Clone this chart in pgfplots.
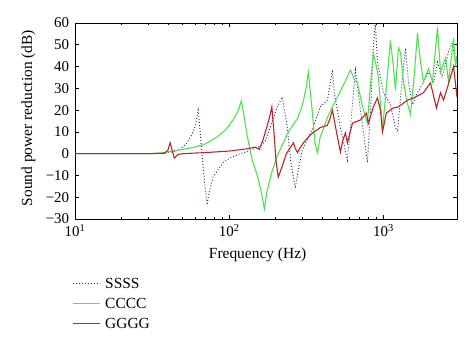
\documentclass[border=0pt]{standalone}
\usepackage{fontspec}
\setmainfont{Liberation Serif}
\usepackage{pgfplots}
\pgfplotsset{compat=1.18}
\definecolor{sblue}{RGB}{40,40,130}
\definecolor{cgreen}{RGB}{80,225,80}
\definecolor{gred}{RGB}{190,35,40}
\begin{document}
\fontsize{15.5}{18}\selectfont
\begin{tikzpicture}
\path[use as bounding box] (-75bp,-130bp) rectangle (399bp,219bp);
\begin{axis}[
  scale only axis, width=382bp, height=196bp,
  at={(0,0)}, anchor=south west,
  xmode=log, xmin=10, xmax=3000, ymin=-30, ymax=60,
  ytick={-30,-20,...,60},
  yticklabels={−30,−20,−10,0,10,20,30,40,50,60},
  xtick={10,100,1000},
  xticklabels={10\textsuperscript{1},10\textsuperscript{2},10\textsuperscript{3}},
  tick align=inside, xtick pos=both, ytick pos=both,
  major tick length=4bp, minor tick length=2bp,
  axis line style={line width=0.8pt},
  every tick/.style={black, line width=0.6pt},
  tick label style={font=\fontsize{15}{18}\selectfont},
  yticklabel style={xshift=-0.5bp},
  xlabel={Frequency (Hz)}, ylabel={Sound power reduction (dB)},
  xlabel style={at={(axis description cs:0.478,-0.199)}, anchor=base, inner sep=0pt},
  ylabel style={at={(axis description cs:-0.112,0.515)}, anchor=base, inner sep=0pt},
  label style={font=\fontsize{15.5}{18}\selectfont},
  legend style={at={(axis description cs:-0.008,-0.285)}, anchor=north west,
    draw=none, fill=none, inner sep=0pt, row sep=0bp,
    font=\fontsize{15.5}{18}\selectfont,
    nodes={inner sep=1bp, text height=12bp, text depth=6bp, anchor=base west}},
  legend cell align=left,
  legend image code/.code={\draw[#1] (0bp,4.5bp) -- (27bp,4.5bp); \path (31bp,0bp);},
]
\addplot[sblue, line width=0.9pt, dash pattern=on 1bp off 2bp] coordinates {
(10,0) (30,0) (38,0.2) (44,1) (48,2) (53.3,5) (57,8.5) (60.5,13) (62.9,20) (64.5,12) (66.5,0) (69,-12) (71.9,-23.5) (74,-18) (78.7,-10.7) (91.4,-4) (101,-2) (118,0) (131,1) (147,2.5) (159,3.5) (172,6) (184,12) (205,21.5) (221,26) (238,12) (250,-3) (268,-15.8) (283,-6) (298,1.7) (350,12) (390,21.5) (433,24.6) (467,38.5) (480,28) (526,12) (584,-3) (611,12) (658,38.5) (710,20) (788,-4) (825,20) (861,50) (887,60) (914,42) (1000,28) (1110,22.5) (1197,12) (1234,10) (1290,25.5) (1390,48.5) (1453,33) (1542,22.5) (1663,28) (1818,33) (1961,37.5) (2120,33) (2243,42) (2400,35) (2643,46.7) (2800,51) (2938,42) (3000,45)
};
\addlegendentry{SSSS}
\addplot[cgreen, line width=1.1pt] coordinates {
(10,0) (30,0) (36,0.3) (41.4,1) (50,2) (60,3) (70,4.5) (83.6,7.7) (95,11) (106,15.5) (114,19.5) (120,24.2) (125,17) (131,8) (141,-3) (152,-10) (162,-18) (169,-25.4) (176,-17) (190,-8) (205,-1) (221,4) (238,9) (258,13) (277,16) (300,23) (315,30) (326,37.5) (336,28) (345,20) (360,5) (373,0.3) (390,8) (407,11) (430,16) (467,21.5) (542,30.6) (580,35) (611,38.4) (650,34) (678,32.5) (730,22) (788,14) (820,30) (861,46) (900,40) (928,35) (986,11) (1050,32) (1110,52) (1160,40) (1197,29) (1251,48.5) (1290,46.7) (1349,33) (1420,24) (1497,18) (1580,35) (1663,55.5) (1740,42) (1818,33) (1961,39) (2081,33) (2243,58) (2345,37.5) (2529,44) (2643,33) (2851,53) (2938,40) (3000,45)
};
\addlegendentry{CCCC}
\addplot[gred, line width=1.1pt] coordinates {
(10,0) (30,0) (38,0.2) (40,1.5) (41.4,5) (42.5,2) (44,-2) (46.7,-0.3) (50,0) (70,0.5) (100,1.2) (130,2.2) (147,3) (157,2) (165,6) (175,12) (183,17) (189,21.5) (195,10) (201,-3) (208,-10.8) (220,-6) (235,0) (261,5) (268,2.5) (277,0.5) (290,3) (303,5) (340,9) (390,12) (433,13) (450,16) (467,20) (490,12) (526,0.8) (545,6) (567,9.5) (584,5) (630,14) (710,15.5) (776,18.6) (799,14) (861,21.5) (914,25.6) (957,20) (986,10) (1045,18.7) (1161,21) (1251,21.5) (1432,24.6) (1566,25.5) (1818,28) (2019,32.5) (2208,21) (2345,28) (2455,24.6) (2605,30.6) (2851,40) (3000,26)
};
\addlegendentry{GGGG}
\end{axis}
\end{tikzpicture}
\end{document}
